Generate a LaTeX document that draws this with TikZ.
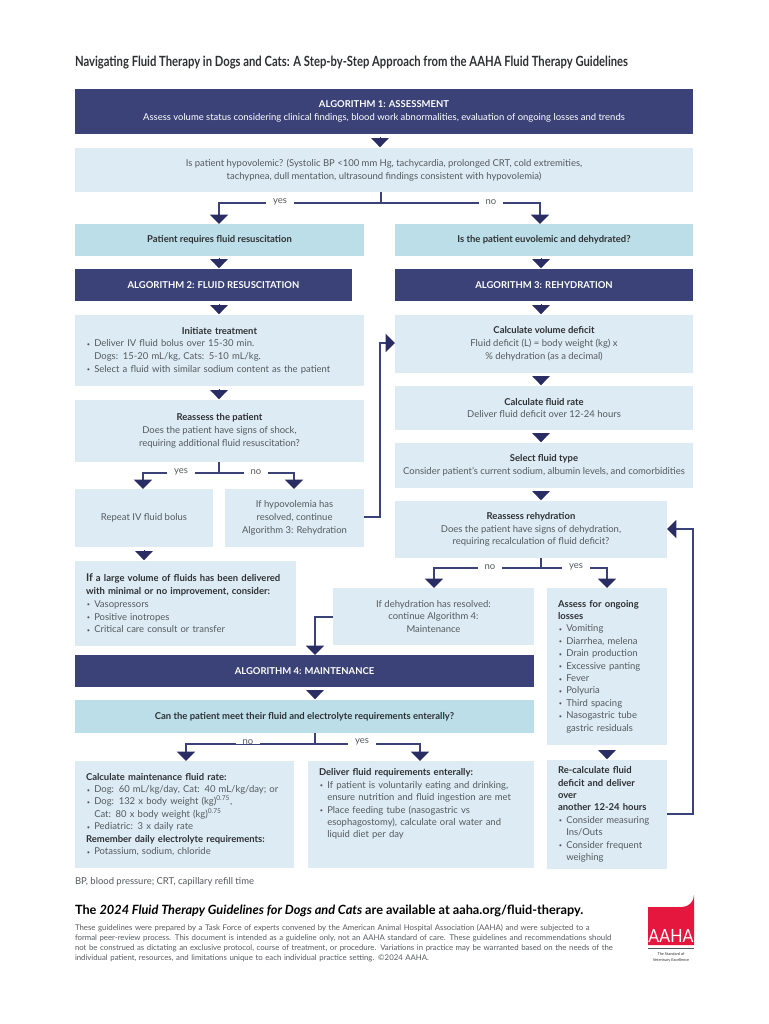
\documentclass[tikz,border=0pt]{standalone}
\usepackage{fontspec}
\usetikzlibrary{arrows.meta}
\setmainfont{Lato}
\newfontfamily\titlefont[FakeStretch=0.80]{Lato}
\definecolor{navy}{HTML}{3A4277}
\definecolor{headc}{HTML}{2A2D64}
\definecolor{pale}{HTML}{DDECF4}
\definecolor{mid}{HTML}{BCDEE9}
\definecolor{ink}{HTML}{55595E}
\definecolor{inkb}{HTML}{2E3033}
\definecolor{logored}{HTML}{E5173F}
\newcommand{\panel}[7]{\pgfmathsetmacro\pw{(#4-#2)*0.75}\pgfmathsetmacro\ph{(#5-#3)*0.75}%
  \node[#6,minimum width=\pw pt,minimum height=\ph pt,anchor=north west] (#1) at (#2,#3) {#7};}
\newcommand{\bt}[1]{{\bfseries\color{inkb}#1}}
\newcommand{\ctr}[1]{\leavevmode\hbox to \hsize{\hfil #1\hfil}}
\newcommand{\jl}[1]{\leavevmode\hbox to \hsize{#1}}
\newcommand{\bl}{\leavevmode\hbox to 6.2pt{\hskip0.6pt\raisebox{0.4pt}{\scalebox{0.6}{•}}\hfil}}
\newcommand{\ind}{\hspace*{6.2pt}}
\tikzset{
  x=0.75pt,y=-0.75pt,
  base/.style={inner sep=0pt,outer sep=0pt,text=ink,font=\fontsize{7.1}{9.6}\selectfont,align=center},
  palebox/.style={base,fill=pale},
  midbox/.style={base,fill=mid,text=inkb,font=\fontsize{7.1}{9.6}\selectfont\bfseries},
  navybox/.style={base,fill=navy,text=white,font=\fontsize{7.1}{9.6}\selectfont\bfseries},
  listbox/.style={palebox,align=left,inner xsep=8.25pt,text width=\pw pt-16.5pt},
  listtight/.style={listbox,font=\fontsize{7.1}{9.3}\selectfont},
  link/.style={draw=navy,line width=0.9pt},
  linkhead/.style={link,-{Triangle[width=13.5pt,length=7pt,color=headc]}},
  drop/.style={-{Triangle[width=13pt,length=6.8pt,color=headc]},draw=headc,line width=0.1pt,shorten <=#1*0.75pt,shorten >=0.6pt},
  free/.style={inner sep=0pt,outer sep=0pt,text=ink,font=\fontsize{7.1}{9.6}\selectfont},
  lab/.style={free,fill=white,inner xsep=5pt},
}
\begin{document}
\begin{tikzpicture}
\useasboundingbox[fill=white] (0,0) rectangle (768,1024);
\node[free,anchor=west,text=inkb] (title) at (75,63) {\titlefont\fontsize{10.55}{12}\selectfont\bfseries Navigating Fluid Therapy in Dogs and Cats: A Step-by-Step Approach from the AAHA Fluid Therapy Guidelines};
% algorithm 1
\panel{a1}{75}{89}{693}{134}{navybox}{ALGORITHM 1: ASSESSMENT\\[0.5pt]{\mdseries Assess volume status considering clinical findings, blood work abnormalities, evaluation of ongoing losses and trends}}
\panel{q}{75}{148}{693}{192}{palebox}{Is patient hypovolemic? (Systolic BP <100 mm Hg, tachycardia, prolonged CRT, cold extremities,\\tachypnea, dull mentation, ultrasound findings consistent with hypovolemia)}
\panel{res}{75}{224}{364}{256}{midbox}{Patient requires fluid resuscitation}
\panel{euv}{395}{224}{693}{256}{midbox}{Is the patient euvolemic and dehydrated?}
\panel{a2}{75}{269}{352}{301}{navybox}{ALGORITHM 2: FLUID RESUSCITATION}
\panel{a3}{395}{269}{693}{301}{navybox}{ALGORITHM 3: REHYDRATION}
% algorithm 2
\panel{init}{75}{315}{364}{386}{listbox}{\ctr{\bt{Initiate treatment}}\\
 \bl Deliver IV fluid bolus over 15-30 min.\\
 \ind Dogs: 15-20 mL/kg, Cats: 5-10 mL/kg.\\
 \bl Select a fluid with similar sodium content as the patient}
\panel{reas}{75}{400}{364}{462}{palebox}{\bt{Reassess the patient}\\Does the patient have signs of shock,\\requiring additional fluid resuscitation?}
\panel{rep}{75}{489}{213}{547}{palebox}{Repeat IV fluid bolus}
\panel{hyp}{225}{489}{364}{547}{palebox}{If hypovolemia has\\resolved, continue\\Algorithm 3: Rehydration}
\panel{large}{75}{561}{296}{646}{listbox}{\bt{{\fontsize{8}{9.6}\selectfont If} a large volume of fluids has been delivered}\\
 \bt{with minimal or no improvement, consider:}\\
 \bl Vasopressors\\ \bl Positive inotropes\\ \bl Critical care consult or transfer}
% algorithm 3
\panel{vol}{395}{315}{693}{373}{palebox}{\bt{Calculate volume deficit}\\Fluid deficit (L) = body weight (kg) x\\\% dehydration (as a decimal)}
\panel{rate}{395}{386}{693}{430}{palebox}{\bt{Calculate fluid rate}\\Deliver fluid deficit over 12-24 hours}
\panel{type}{395}{443}{693}{488}{palebox}{\bt{Select fluid type}\\Consider patient's current sodium, albumin levels, and comorbidities}
\panel{reh}{395}{501}{667}{558}{palebox}{\bt{Reassess rehydration}\\Does the patient have signs of dehydration,\\requiring recalculation of fluid deficit?}
\panel{dehy}{333}{588}{534}{645}{palebox}{If dehydration has resolved:\\continue Algorithm 4:\\Maintenance}
\panel{loss}{547}{588}{667}{745}{listtight}{\bt{Assess for ongoing}\\\bt{losses}\\\bl Vomiting\\\bl Diarrhea, melena\\\bl Drain production\\\bl Excessive panting\\\bl Fever\\\bl Polyuria\\\bl Third spacing\\\bl Nasogastric tube\\\ind gastric residuals}
\panel{recalc}{547}{760}{667}{869}{listtight}{\bt{Re-calculate fluid}\\\bt{deficit and deliver over}\\\bt{another 12-24 hours}\\
 \bl Consider measuring\\\ind Ins/Outs\\\bl Consider frequent\\\ind weighing}
% algorithm 4
\panel{a4}{75}{655}{534}{687}{navybox}{ALGORITHM 4: MAINTENANCE}
\panel{can}{75}{700}{534}{733}{midbox}{Can the patient meet their fluid and electrolyte requirements enterally?}
\panel{maint}{75}{761}{294}{868}{listtight}{\bt{Calculate maintenance fluid rate:}\\
 \bl Dog: 60 mL/kg/day, Cat: 40 mL/kg/day; or\\
 \bl Dog: 132 x body weight (kg)\textsuperscript{0.75},\\
 \ind Cat: 80 x body weight (kg)\textsuperscript{0.75}\\
 \bl Pediatric: 3 x daily rate\\
 \bt{Remember daily electrolyte requirements:}\\
 \bl Potassium, sodium, chloride}
\panel{ent}{308}{761}{534}{868}{listtight}{\bt{Deliver fluid requirements enterally:}\\
 \bl If patient is voluntarily eating and drinking,\\
 \ind ensure nutrition and fluid ingestion are met\\
 \bl Place feeding tube (nasogastric vs\\
 \ind esophagostomy), calculate oral water and\\
 \ind liquid diet per day\\ \mbox{}\\[-2pt]\mbox{}}
% straight drops
\draw[drop=3] (380,0 |- a1.south) -- (380,0 |- q.north);
\draw[drop=2] (219,0 |- res.south) -- (219,0 |- a2.north);
\draw[drop=2] (541,0 |- euv.south) -- (541,0 |- a3.north);
\draw[drop=3] (219,0 |- a2.south) -- (219,0 |- init.north);
\draw[drop=3] (541,0 |- a3.south) -- (541,0 |- vol.north);
\draw[drop=3] (219,0 |- init.south) -- (219,0 |- reas.north);
\draw[drop=3] (541,0 |- vol.south) -- (541,0 |- rate.north);
\draw[drop=3] (541,0 |- rate.south) -- (541,0 |- type.north);
\draw[drop=3] (541,0 |- type.south) -- (541,0 |- reh.north);
\draw[drop=3] (144,0 |- rep.south) -- (144,0 |- large.north);
\draw[drop=5] (607,0 |- loss.south) -- (607,0 |- recalc.north);
\draw[drop=3] (315,0 |- a4.south) -- (315,0 |- can.north);
% branching connectors
\draw[link] (381,0 |- q.south) -- (381,203) coordinate (qj);
\draw[linkhead] (qj) -- (219,203) -- (219,0 |- res.north);
\draw[linkhead] (qj) -- (540,203) -- (540,0 |- euv.north);
\draw[link] (219,0 |- reas.south) -- (219,473) coordinate (rj);
\draw[linkhead] (rj) -- (143,473) -- (143,0 |- rep.north);
\draw[linkhead] (rj) -- (294,473) -- (294,0 |- hyp.north);
\draw[link] (541,0 |- reh.south) -- (541,568) coordinate (hj);
\draw[linkhead] (hj) -- (434,568) -- (434,0 |- dehy.north);
\draw[linkhead] (hj) -- (607,568) -- (607,0 |- loss.north);
\draw[link] (315,0 |- can.south) -- (315,744) coordinate (cj);
\draw[linkhead] (cj) -- (186,744) -- (186,0 |- maint.north);
\draw[linkhead] (cj) -- (420,744) -- (420,0 |- ent.north);
\draw[linkhead] (hyp.east |- 0,517) -- (380,517) -- (380,343) -- (vol.west |- 0,343);
\draw[linkhead] (recalc.east |- 0,814) -- (693,814) -- (693,529) -- (reh.east |- 0,529);
\draw[linkhead] (dehy.west |- 0,617) -- (315,617) -- (315,0 |- a4.north);
% branch labels
\node[lab] (ly1) at (280,202) {yes};
\node[lab] (ln1) at (491,202) {no};
\node[lab] (ly2) at (181,472) {yes};
\node[lab] (ln2) at (256,472) {no};
\node[lab] (ln3) at (490,567) {no};
\node[lab] (ly3) at (576,567) {yes};
\node[lab] (ln4) at (248,742) {no};
\node[lab] (ly4) at (362,742) {yes};
% footer
\node[free,anchor=west] (abbr) at (75,882) {BP, blood pressure; CRT, capillary refill time};
\node[free,anchor=west,text=black] (avail) at (75,911) {\fontsize{9.55}{12}\selectfont\bfseries The {\itshape 2024 Fluid Therapy Guidelines for Dogs and Cats} are available at aaha.org/fluid-therapy.};
\node[free,anchor=north west,text=ink,font=\fontsize{5.85}{7.6}\selectfont,align=left,text width=414.75pt] (fine) at (75,924.5) {%
 \jl{These guidelines were prepared by a Task Force of experts convened by the American Animal Hospital Association (AAHA) and were subjected to a}\\
 \jl{formal peer-review process. This document is intended as a guideline only, not an AAHA standard of care. These guidelines and recommendations should}\\
 \jl{not be construed as dictating an exclusive protocol, course of treatment, or procedure. Variations in practice may be warranted based on the needs of the}\\
 individual patient, resources, and limitations unique to each individual practice setting. ©2024 AAHA.};
% logo
\fill[logored] (648,945) -- (648,907) -- (682,907) arc[start angle=90,end angle=0,radius=12] -- (694,945) -- cycle;
\node[free,anchor=base,text=white,font=\fontsize{13}{13}\selectfont] (logo) at (671,942.5) {\scalebox{0.93}[1.05]{AAHA}};
\fill[ink] (648,947.6) rectangle (694,949);
\node[free,anchor=center,text=inkb,font=\fontsize{2.9}{5}\selectfont,align=center] (tag) at (671,957.5) {The Standard of\\Veterinary Excellence};
\end{tikzpicture}
\end{document}
